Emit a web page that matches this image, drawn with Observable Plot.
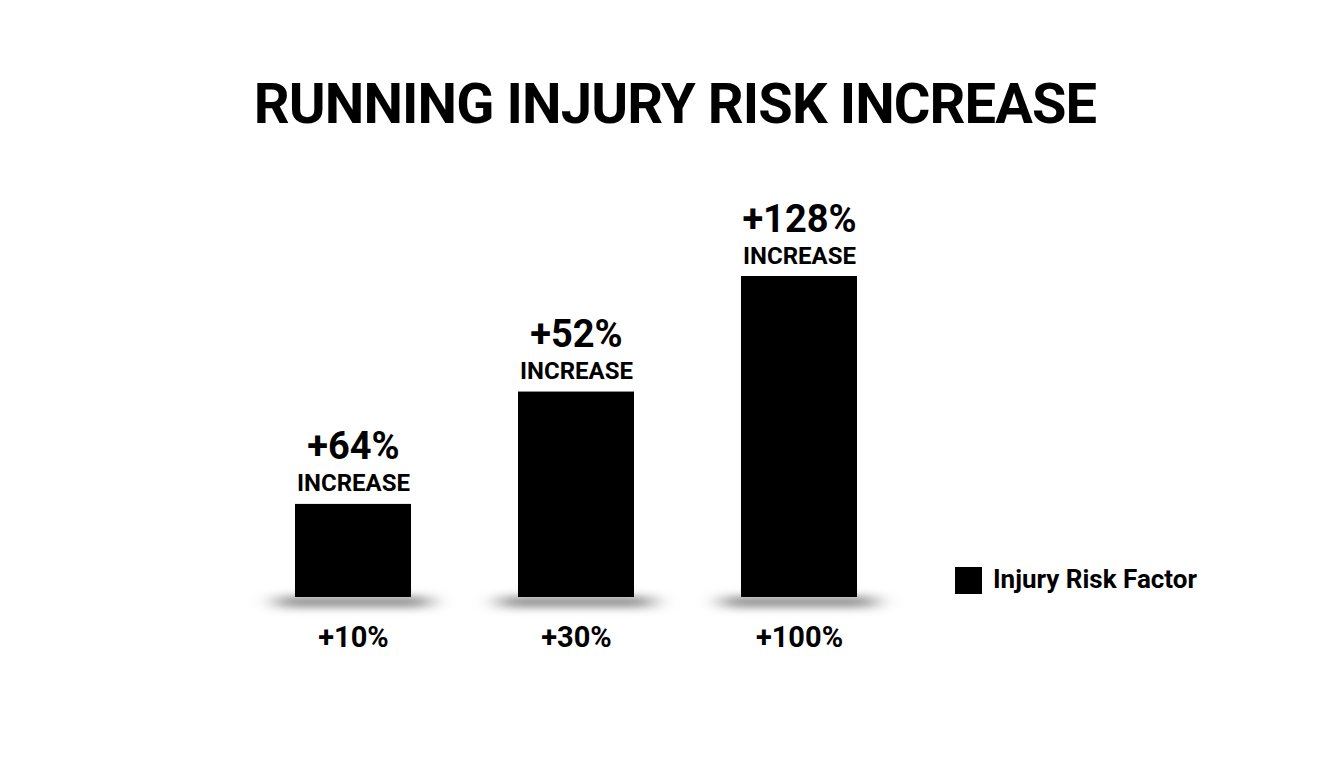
<!DOCTYPE html>
<html>
<head>
<meta charset="utf-8">
<script src="https://cdn.jsdelivr.net/npm/d3@7"></script>
<script src="https://cdn.jsdelivr.net/npm/@observablehq/plot@0.6"></script>
<style>
  html, body { margin: 0; padding: 0; background: #ffffff; }
  body { width: 1344px; height: 768px; position: relative; overflow: hidden; font-family: Roboto, "Noto Sans", sans-serif; color: #000; }
  #title { position: absolute; left: 3px; width: 1344px; top: 76px; text-align: center; font-size: 56px; line-height: 56px; font-weight: 700; letter-spacing: -0.87px; }
  #chart { position: absolute; left: 0; top: 150px; }
  #legend { position: absolute; left: 955px; top: 566px; height: 27px; }
  #legend .sw { position: absolute; left: 0; top: 1px; width: 27px; height: 27px; background: #000; }
  #legend .lb { position: absolute; left: 38px; top: 0px; white-space: nowrap; font-size: 26px; line-height: 26px; font-weight: 700; }
</style>
</head>
<body>
<div id="title">RUNNING INJURY RISK INCREASE</div>
<div id="chart"></div>
<div id="legend"><span class="sw"></span><span class="lb">Injury Risk Factor</span></div>
<script>
// Data
const categories = ["+10%", "+30%", "+100%"];          // x tick labels (training increase)
const barValues = [29, 64, 100];                        // relative bar heights
const riskLabels = ["+64%", "+52%", "+128%"];           // labels above bars
const subLabel = "INCREASE";
const legendLabel = "Injury Risk Factor";

const data = categories.map((c, i) => ({cat: c, value: barValues[i], label: riskLabels[i], sub: subLabel}));

const chart = Plot.plot({
  width: 1344,
  height: 560,
  marginLeft: 187,
  marginRight: 378,
  marginTop: 126,
  marginBottom: 113,
  style: {fontFamily: "Roboto, 'Noto Sans', sans-serif", fontSize: "29px", fontWeight: "700", color: "#000", background: "transparent"},
  x: {domain: categories, padding: 0.478, label: null},
  y: {domain: [0, 100], axis: null},
  marks: [
    Plot.barY(data, {x: "cat", y1: -3, y2: 0, insetLeft: -18, insetRight: -18, fill: "#000", fillOpacity: 0.5, ariaDescription: "shadow"}),
    Plot.barY(data, {x: "cat", y: "value", fill: "#000"}),
    Plot.text(data, {x: "cat", y: "value", text: "sub", lineAnchor: "bottom", dy: -13, fontSize: 24, fontWeight: 700, fill: "#000"}),
    Plot.text(data, {x: "cat", y: "value", text: "label", lineAnchor: "bottom", dy: -45, fontSize: 38, fontWeight: 700, fill: "#000"}),
    Plot.axisX({tickSize: 0, tickPadding: 29, fontSize: 29, fontWeight: 700, label: null, fill: "#000"})
  ]
});

// soft blur for the shadow under bars
const svg = d3.select(chart);
const defs = svg.insert("defs", ":first-child");
defs.append("filter").attr("id", "barShadow").attr("x", "-50%").attr("y", "-400%").attr("width", "200%").attr("height", "900%")
  .append("feGaussianBlur").attr("stdDeviation", "12 5");
svg.selectAll("g[aria-description='shadow']").attr("filter", "url(#barShadow)");

document.getElementById("chart").appendChild(chart);
</script>
</body>
</html>
